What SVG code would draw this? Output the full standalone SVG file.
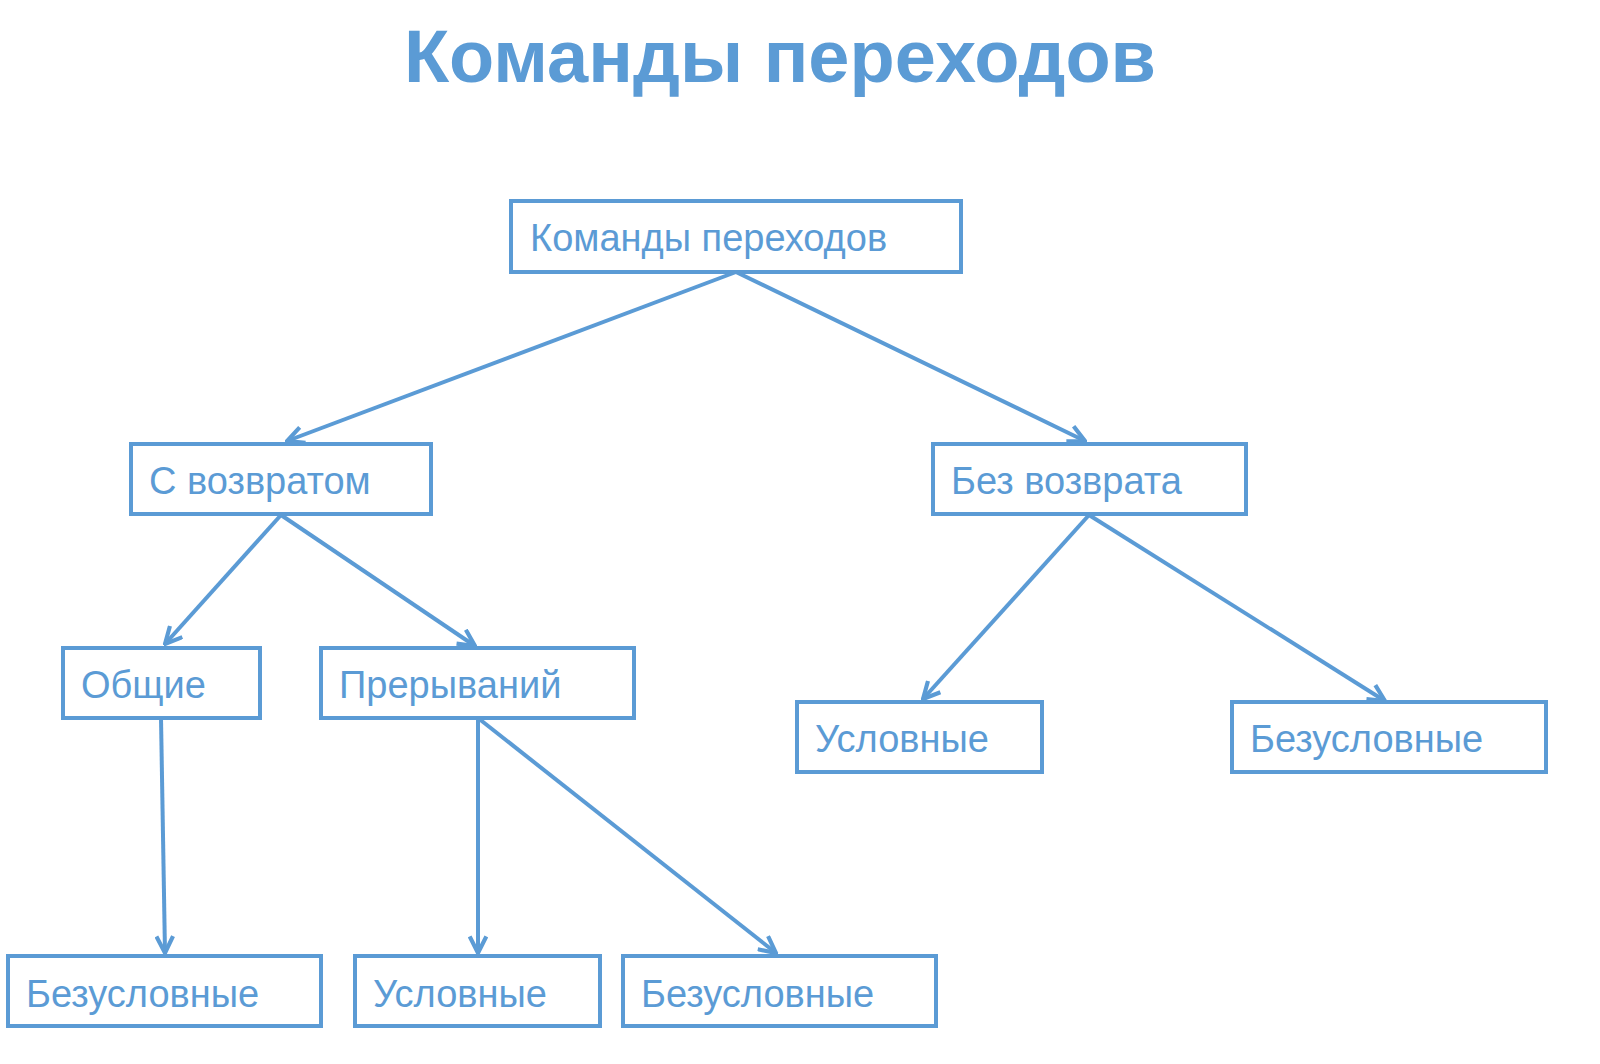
<svg xmlns="http://www.w3.org/2000/svg" width="1600" height="1064" viewBox="0 0 1600 1064">
<style>
.b{fill:#fff;stroke:#5b9bd5;stroke-width:4}
.t{font-family:"Liberation Sans",Arial,sans-serif;font-size:38px;fill:#5b9bd5}
.c{stroke:#5b9bd5;stroke-width:4;fill:none;marker-end:url(#a)}
</style>
<defs><marker id="a" viewBox="0 0 12 12" refX="11" refY="6" markerWidth="5" markerHeight="5" orient="auto" markerUnits="strokeWidth"><polyline points="1,1 11,6 1,11" fill="none" stroke="#5b9bd5" stroke-width="2.5"/></marker></defs>
<rect width="1600" height="1064" fill="#fff"/>
<text x="780" y="82" text-anchor="middle" font-family="'Liberation Sans',Arial,sans-serif" font-weight="bold" font-size="74" fill="#5b9bd5">Команды переходов</text>
<g id="connectors">
<line class="c" x1="736" y1="272" x2="287" y2="441"/>
<line class="c" x1="736" y1="272" x2="1085" y2="441"/>
<line class="c" x1="281" y1="515" x2="165" y2="644"/>
<line class="c" x1="281" y1="515" x2="475" y2="646"/>
<line class="c" x1="1089" y1="515" x2="923" y2="699"/>
<line class="c" x1="1089" y1="515" x2="1385" y2="701"/>
<line class="c" x1="161" y1="718" x2="165" y2="953"/>
<line class="c" x1="478" y1="718" x2="478" y2="953"/>
<line class="c" x1="478" y1="718" x2="776" y2="953"/>
</g>
<g id="root"><rect class="b" x="511" y="201" width="450" height="71"/><text class="t" x="530" y="251">Команды переходов</text></g>
<g id="s_vozvratom"><rect class="b" x="131" y="444" width="300" height="70"/><text class="t" x="149" y="494">С возвратом</text></g>
<g id="bez_vozvrata"><rect class="b" x="933" y="444" width="313" height="70"/><text class="t" x="951" y="494">Без возврата</text></g>
<g id="obshchie"><rect class="b" x="63" y="648" width="197" height="70"/><text class="t" x="81" y="698">Общие</text></g>
<g id="preryvaniy"><rect class="b" x="321" y="648" width="313" height="70"/><text class="t" x="339" y="698">Прерываний</text></g>
<g id="uslovnye_r"><rect class="b" x="797" y="702" width="245" height="70"/><text class="t" x="815" y="752">Условные</text></g>
<g id="bezuslovnye_r"><rect class="b" x="1232" y="702" width="314" height="70"/><text class="t" x="1250" y="752">Безусловные</text></g>
<g id="bezuslovnye_1"><rect class="b" x="8" y="956" width="313" height="70"/><text class="t" x="26" y="1007">Безусловные</text></g>
<g id="uslovnye_2"><rect class="b" x="355" y="956" width="245" height="70"/><text class="t" x="373" y="1007">Условные</text></g>
<g id="bezuslovnye_3"><rect class="b" x="623" y="956" width="313" height="70"/><text class="t" x="641" y="1007">Безусловные</text></g>
</svg>
